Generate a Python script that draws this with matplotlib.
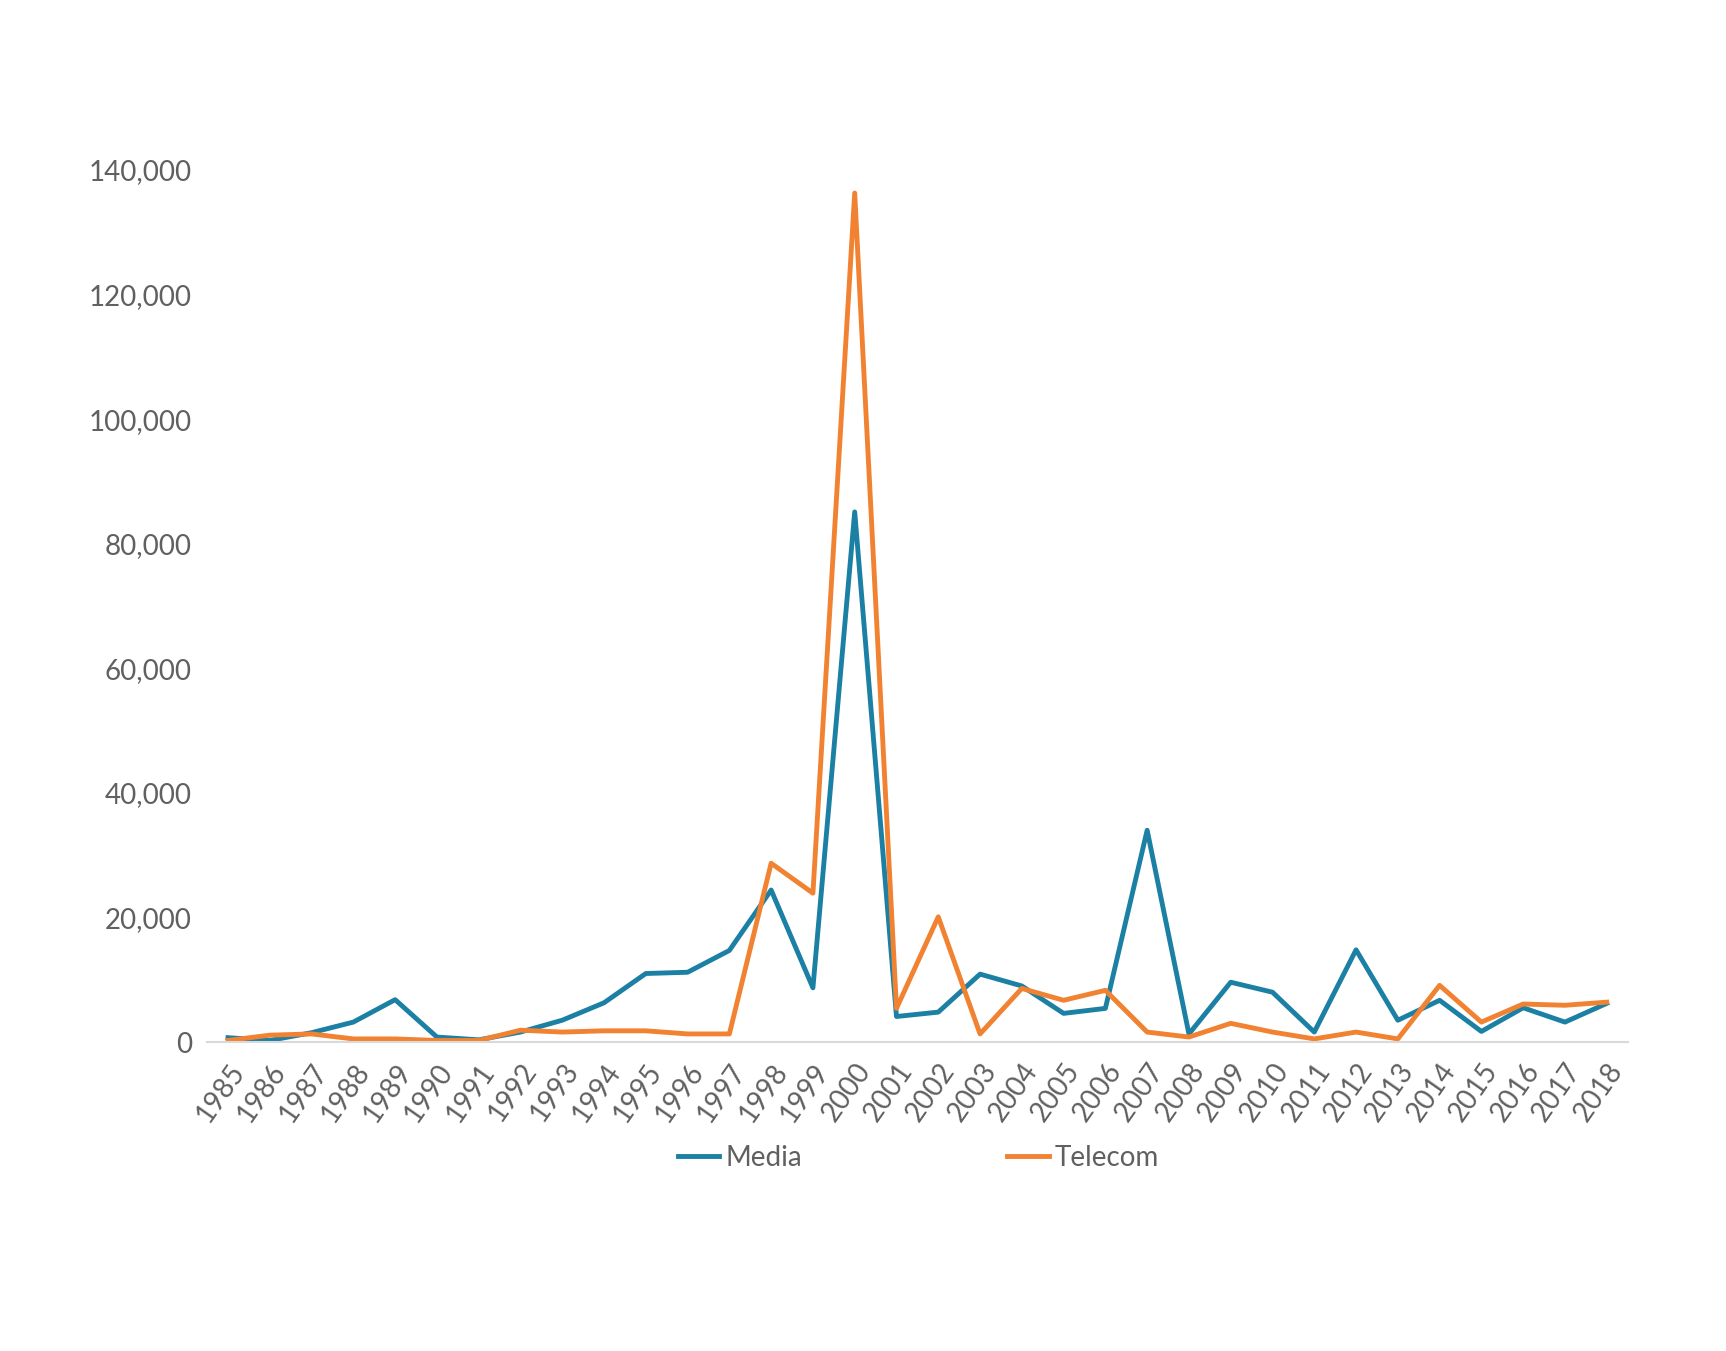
import matplotlib
matplotlib.use("Agg")
import matplotlib.pyplot as plt
from matplotlib.ticker import FuncFormatter

# -----------------------------
# data
# -----------------------------
years = [str(y) for y in range(1985, 2019)]

media = [700, 250, 1500, 3200, 6800, 800, 350, 1600, 3500, 6300,
         11000, 11200, 14700, 24400, 8700, 85100, 4100, 4800, 10900, 9000,
         4600, 5400, 34000, 1300, 9600, 8000, 1600, 14800, 3500, 6700,
         1700, 5500, 3200, 6200]

telecom = [250, 1100, 1300, 500, 500, 250, 250, 1900, 1600, 1800,
           1800, 1300, 1300, 28700, 23900, 136300, 5400, 20100, 1300, 8600,
           6700, 8300, 1600, 800, 3000, 1600, 500, 1600, 500, 9100,
           3200, 6100, 5900, 6400]

MEDIA_COLOR = "#1b80a4"
TELECOM_COLOR = "#f08232"
TEXT_COLOR = "#606060"

plt.rcParams['font.family'] = ['Lato', 'DejaVu Sans']

fig = plt.figure(figsize=(17.26, 13.51), dpi=100)
ax = fig.add_axes([0.12, 0.2287, 0.823, 0.6455])

x = range(len(years))
ax.plot(x, media, color=MEDIA_COLOR, lw=3.5, label="Media")
ax.plot(x, telecom, color=TELECOM_COLOR, lw=3.5, label="Telecom")

ax.set_xlim(-0.5, len(years) - 0.5)
ax.set_ylim(0, 140000)
ax.set_yticks(range(0, 140001, 20000))
ax.yaxis.set_major_formatter(FuncFormatter(lambda v, p: f"{int(v):,}"))

ax.set_xticks(list(x))
ax.set_xticklabels(years, rotation=55, ha="right", rotation_mode="anchor")

for side in ["top", "right", "left"]:
    ax.spines[side].set_visible(False)
ax.spines["bottom"].set_color("#d9d9d9")
ax.spines["bottom"].set_linewidth(1.5)

ax.tick_params(axis="y", length=0, pad=11, labelsize=20, colors=TEXT_COLOR)
ax.tick_params(axis="x", length=0, pad=12, labelsize=20, colors=TEXT_COLOR)

fig.legend(loc="center", bbox_to_anchor=(0.532, 0.143), ncol=2, frameon=False,
           fontsize=20, handlelength=1.5, handletextpad=0.2, columnspacing=7.4,
           labelcolor=TEXT_COLOR)

fig.savefig("out.png", dpi=100)
